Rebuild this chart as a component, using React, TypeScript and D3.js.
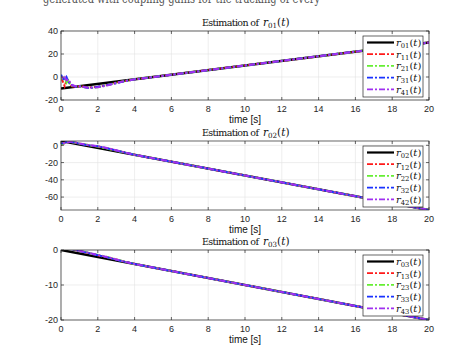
import React from 'react'
import * as d3 from 'd3'

const W = 474
const H = 351

const X_TICKS = [0, 2, 4, 6, 8, 10, 12, 14, 16, 18, 20]

// true trajectories (straight lines, read at the ends)
const TIME_TRUE = [0, 20]
const R01_TRUE = [-10, 30]
const R02_TRUE = [5, -75]
const R03_TRUE = [0, -20]

// estimator samples
const TIME_EST = [0, 0.1, 0.2, 0.3, 0.4, 0.5, 0.6, 0.8, 1.0, 1.5, 2, 2.5, 3, 3.5, 4, 5, 20]

const R11 = [0, -4, -8, -3, -2, -6, -8, -8.5, -8, -9, -8.5, -7, -5, -3.5, -2, 0, 30]
const R21 = [1, -3, -1, -5, -3, -7, -7.5, -8, -8, -9.5, -9, -7, -5, -3.5, -2, 0, 30]
const R31 = [2, -1, -3, 0, -4, -6, -7, -8.5, -8, -9.5, -8.5, -7, -5.5, -3.5, -2, 0, 30]
const R41 = [2, -1, 0, -3, -2, -5, -7, -8, -8, -9.5, -9, -7.5, -5, -3.5, -2, 0, 30]

const R12 = [0, 2, 3, 3.5, 4, 4, 3.5, 3, 2, 0, -1.5, -3.5, -6, -8.5, -11, -15, -75]
const R22 = [1, 1.5, 2.5, 3.5, 4, 4.2, 3.8, 3, 2, 0.2, -1.5, -3.8, -6.2, -8.5, -11, -15, -75]
const R32 = [2, 2.5, 3, 3.8, 4.2, 4, 3.5, 3, 1.8, 0, -1.2, -3.5, -6, -8.6, -11, -15, -75]
const R42 = [1.5, 2, 2.5, 3, 3.5, 4, 4, 3.2, 2.2, 0.3, -1, -3.2, -5.8, -8.4, -11, -15, -75]

const R13 = [0.5, 0.6, 0.6, 0.5, 0.4, 0.3, 0.2, 0, -0.3, -0.9, -1.5, -2.1, -2.7, -3.4, -4, -5, -20]
const R23 = [0.4, 0.6, 0.7, 0.6, 0.5, 0.4, 0.3, 0.1, -0.2, -0.8, -1.4, -2.0, -2.7, -3.4, -4, -5, -20]
const R33 = [0.6, 0.7, 0.6, 0.6, 0.5, 0.4, 0.2, 0, -0.3, -0.9, -1.5, -2.1, -2.8, -3.4, -4, -5, -20]
const R43 = [0.5, 0.6, 0.7, 0.6, 0.5, 0.4, 0.3, 0.1, -0.2, -0.8, -1.4, -2.0, -2.7, -3.4, -4, -5, -20]

const EST_COLORS = ['#ff1a1a', '#66ee33', '#1a33ff', '#a030f0']

type Panel = {
  idx: string
  top: number
  bottom: number
  domain: [number, number]
  yTicks: number[]
  truth: number[]
  est: number[][]
}

const PANELS: Panel[] = [
  { idx: '1', top: 31, bottom: 100, domain: [-20, 40], yTicks: [-20, 0, 20, 40], truth: R01_TRUE, est: [R11, R21, R31, R41] },
  { idx: '2', top: 141, bottom: 210, domain: [-75, 5], yTicks: [-60, -40, -20, 0], truth: R02_TRUE, est: [R12, R22, R32, R42] },
  { idx: '3', top: 250, bottom: 320, domain: [-20, 0], yTicks: [-20, -10, 0], truth: R03_TRUE, est: [R13, R23, R33, R43] },
]

const LEFT = 61
const RIGHT = 429
const AXIS = '#262626'
const GRID = '#e3e3e3'
const SANS = '"Liberation Sans", Arial, sans-serif'
const SERIF = '"DejaVu Serif", "Liberation Serif", serif'
const DASH = '6,2,2,2'

function Label({ x, y, sub, size = 10 }: { x: number; y: number; sub: string; size?: number }) {
  return (
    <text x={x} y={y} fontFamily={SERIF} fontSize={size} fill="#111">
      <tspan fontStyle="italic">r</tspan>
      <tspan fontSize={size * 0.68} dy={2}>{sub}</tspan>
      <tspan dy={-2}>(</tspan>
      <tspan fontStyle="italic">t</tspan>
      <tspan>)</tspan>
    </text>
  )
}

function PanelView({ p }: { p: Panel }) {
  const x = d3.scaleLinear().domain([0, 20]).range([LEFT, RIGHT])
  const y = d3.scaleLinear().domain(p.domain).range([p.bottom, p.top])
  const line = d3.line<[number, number]>().x(d => x(d[0])).y(d => y(d[1]))
  const truePts = TIME_TRUE.map((t, i) => [t, p.truth[i]] as [number, number])
  const midX = (LEFT + RIGHT) / 2
  const legX = 363
  const legY = p.top + 5
  const rowH = 11.7
  const subs = ['0' + p.idx, '1' + p.idx, '2' + p.idx, '3' + p.idx, '4' + p.idx]

  return (
    <g>
      <defs>
        <clipPath id={'clip' + p.idx}>
          <rect x={LEFT} y={p.top} width={RIGHT - LEFT} height={p.bottom - p.top} />
        </clipPath>
      </defs>
      <rect x={LEFT} y={p.top} width={RIGHT - LEFT} height={p.bottom - p.top} fill="#fff" />
      {X_TICKS.map(t => (
        <line key={'gx' + t} x1={x(t)} x2={x(t)} y1={p.top} y2={p.bottom} stroke={GRID} strokeWidth={0.6} />
      ))}
      {p.yTicks.map(v => (
        <line key={'gy' + v} x1={LEFT} x2={RIGHT} y1={y(v)} y2={y(v)} stroke={GRID} strokeWidth={0.6} />
      ))}
      <g clipPath={`url(#clip${p.idx})`}>
        <path d={line(truePts) || ''} fill="none" stroke="#000" strokeWidth={2.4} />
        {p.est.map((vals, k) => (
          <path
            key={k}
            d={line(TIME_EST.map((t, i) => [t, vals[i]] as [number, number])) || ''}
            fill="none"
            stroke={EST_COLORS[k]}
            strokeWidth={2}
            strokeDasharray={DASH}
            strokeDashoffset={k * 2}
          />
        ))}
      </g>
      <rect x={LEFT} y={p.top} width={RIGHT - LEFT} height={p.bottom - p.top} fill="none" stroke={AXIS} strokeWidth={0.7} />
      {X_TICKS.map(t => (
        <g key={'tx' + t}>
          <line x1={x(t)} x2={x(t)} y1={p.bottom} y2={p.bottom - 3} stroke={AXIS} strokeWidth={0.7} />
          <line x1={x(t)} x2={x(t)} y1={p.top} y2={p.top + 3} stroke={AXIS} strokeWidth={0.7} />
          <text x={x(t)} y={p.bottom + 11.5} textAnchor="middle" fontFamily={SANS} fontSize={9} fill={AXIS}>{t}</text>
        </g>
      ))}
      {p.yTicks.map(v => (
        <g key={'ty' + v}>
          <line x1={LEFT} x2={LEFT + 3} y1={y(v)} y2={y(v)} stroke={AXIS} strokeWidth={0.7} />
          <line x1={RIGHT} x2={RIGHT - 3} y1={y(v)} y2={y(v)} stroke={AXIS} strokeWidth={0.7} />
          <text x={LEFT - 3} y={y(v) + 3.2} textAnchor="end" fontFamily={SANS} fontSize={9} fill={AXIS}>{v}</text>
        </g>
      ))}
      <text x={midX} y={p.bottom + 23} textAnchor="middle" fontFamily={SANS} fontSize={10} fill="#111">time [s]</text>
      <text x={midX - 43} y={p.top - 5} fontFamily={SERIF} fontSize={9.5} fill="#111" textLength={57}>Estimation of</text>
      <Label x={midX + 18} y={p.top - 5} sub={'0' + p.idx} size={10.5} />

      <rect x={legX} y={legY} width={60} height={61} fill="#fff" stroke={AXIS} strokeWidth={0.7} />
      {subs.map((s, k) => {
        const yy = legY + 6.5 + k * rowH
        return (
          <g key={s}>
            <line
              x1={legX + 4}
              x2={legX + 31}
              y1={yy}
              y2={yy}
              stroke={k === 0 ? '#000' : EST_COLORS[k - 1]}
              strokeWidth={k === 0 ? 2.2 : 1.7}
              strokeDasharray={k === 0 ? undefined : DASH}
            />
            <Label x={legX + 33} y={yy + 3.5} sub={s} size={10} />
          </g>
        )
      })}
    </g>
  )
}

export default function App() {
  return (
    <div style={{ width: W, height: H, background: '#fff', position: 'absolute', left: 0, top: 0 }}>
      <svg width={W} height={H} style={{ display: 'block' }}>
        <rect width={W} height={H} fill="#fff" />
        <text x={43} y={2.5} fontFamily={SERIF} fontSize={13} fill="#555" textLength={277} lengthAdjust="spacingAndGlyphs">
          generated with coupling gains for the tracking of every
        </text>
        {PANELS.map(p => <PanelView key={p.idx} p={p} />)}
      </svg>
    </div>
  )
}
